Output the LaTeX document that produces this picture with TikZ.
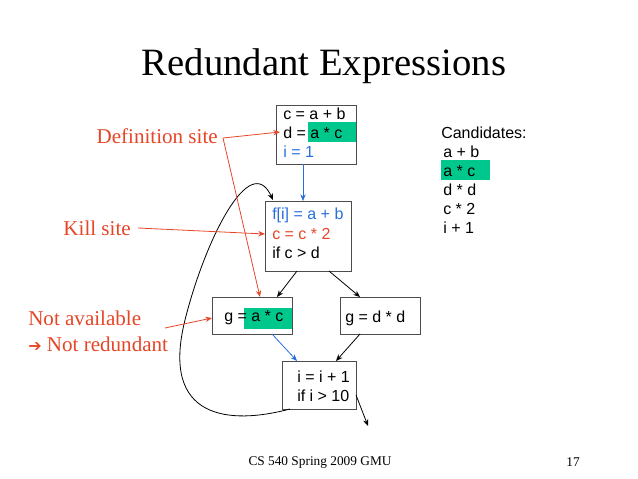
\documentclass[tikz,border=0pt]{standalone}
\usepackage{fontspec}
\setmainfont{Liberation Serif}
\newfontfamily\sansf{Liberation Sans}
\newfontfamily\djv{DejaVu Sans}
\usetikzlibrary{arrows.meta}
\definecolor{hl}{RGB}{0,200,140}
\definecolor{lred}{RGB}{230,70,40}
\definecolor{lblue}{RGB}{40,110,220}
\begin{document}
\begin{tikzpicture}[x=0.75pt,y=-0.75pt,
  box/.style={draw=black!70,line width=0.7pt,inner sep=0pt},
  code/.style={anchor=west,inner sep=0pt,font=\sansf\fontsize{12}{14}\selectfont},
  lab/.style={inner sep=0pt,font=\fontsize{15.8}{18}\selectfont,text=lred},
  flow/.style={-{Stealth[length=5pt,width=4pt]},line width=0.6pt},
  ptr/.style={-{Stealth[length=5pt,width=4pt]},line width=0.6pt,lred}]
\useasboundingbox (0,0) rectangle (638,478);
\node[font=\fontsize{29}{33}\selectfont] (title) at (324,66) {Redundant Expressions};
% highlights
\fill[hl] (308,122) rectangle (356,142);
\fill[hl] (244,308) rectangle (292,329);
\fill[hl] (441,160) rectangle (490,180);
% boxes
\node[box,minimum width=60pt,minimum height=44.25pt] (b1) at (316,134.5) {};
\node[box,minimum width=64.5pt,minimum height=52.5pt] (b2) at (308,236) {};
\node[box,minimum width=60pt,minimum height=27.75pt] (b3) at (252,315.5) {};
\node[box,minimum width=60pt,minimum height=27.75pt] (b4) at (380,315.5) {};
\node[box,minimum width=55.5pt,minimum height=36pt] (b5) at (319,385) {};
% code
\node[code] (t11) at (283,114) {c = a + b};
\node[code] (t12) at (283,133) {d = a * c};
\node[code,text=lblue] (t13) at (283,152) {i = 1};
\node[code,text=lblue] (t21) at (272,215) {f[i] = a + b};
\node[code,text=lred] (t22) at (272,234) {c = c * 2};
\node[code] (t23) at (272,253) {if c > d};
\node[code] (t31) at (224,318) {g = a * c};
\node[code] (t41) at (345,318) {g = d * d};
\node[code] (t51) at (297,377) {i = i + 1};
\node[code] (t52) at (297,396) {if i > 10};
% candidates
\node[code] (c0) at (441,133) {Candidates:};
\node[code] (c1) at (443,152) {a + b};
\node[code] (c2) at (443,171) {a * c};
\node[code] (c3) at (443,190) {d * d};
\node[code] (c4) at (443,209) {c * 2};
\node[code] (c5) at (443,228) {i + 1};
% flow edges
\draw[flow,lblue] (303,164) -- (303,201);
\draw[flow] (297,271) -- (277,297);
\draw[flow] (329,271) -- (360,297);
\draw[flow,lblue] (272,334) -- (297,361);
\draw[flow] (360,334) -- (336,361);
\coordinate (exit) at (368,426);
\draw[flow] (356,395) -- (exit);
\draw[flow] (290,409) .. controls (230,425) and (160,420) .. (185,320)
  .. controls (205,240) and (250,150) .. (273,200);
% labels
\node[lab,anchor=east] (def) at (218,136) {Definition site};
\node[lab,anchor=east] (kill) at (131,228) {Kill site};
\node[lab,anchor=north west,align=left] (na) at (28,311) {Not available\\[1pt]{\djv\bfseries\large ➔}\ Not redundant};
\draw[ptr] (223,138) -- (280,132);
\draw[ptr] (223,138) -- (260,297);
\draw[ptr] (138,228) -- (265,234);
\draw[ptr] (165,328) -- (212,318);
% footer
\node[font=\fontsize{10}{12}\selectfont] (foot) at (320,462) {CS 540 Spring 2009 GMU};
\node[font=\fontsize{10}{12}\selectfont] (pg) at (573,462) {17};
\end{tikzpicture}
\end{document}
